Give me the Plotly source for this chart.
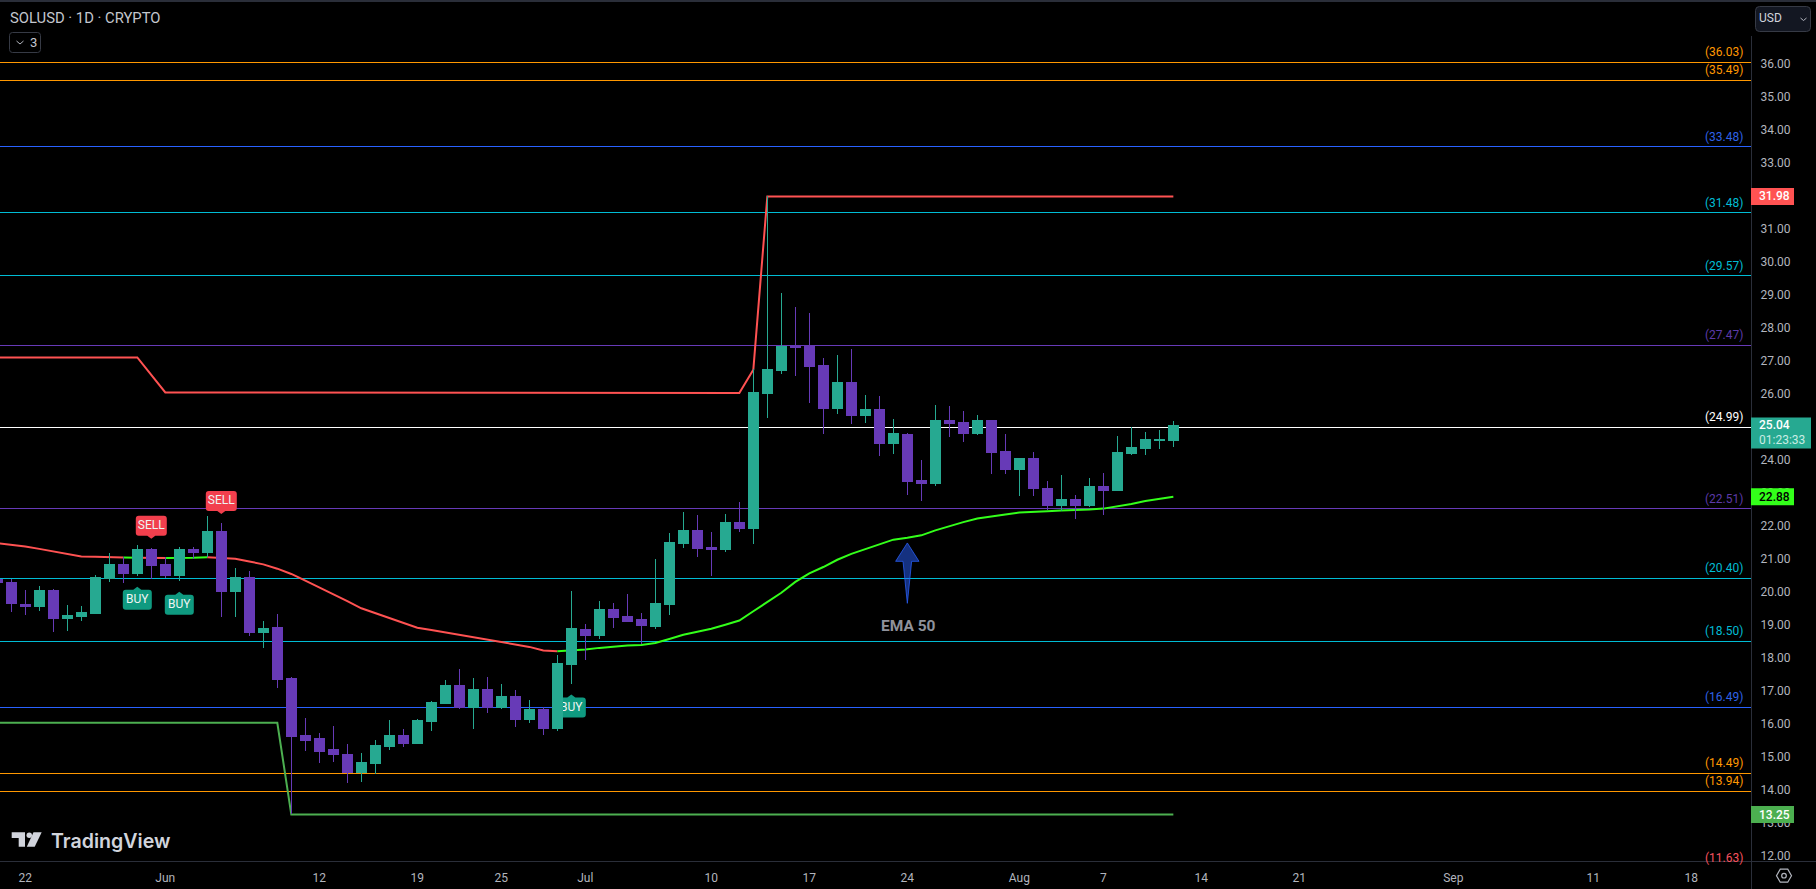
import math
import pandas as pd
import plotly.graph_objects as go

# ---------- data ----------
start_date = "2023-05-20"
candle_open = [20.36,20.28,19.62,19.54,20.04,19.20,19.26,19.35,20.40,20.83,20.55,21.28,20.83,20.49,21.28,21.19,21.83,20.01,20.43,18.77,18.92,17.38,15.65,15.56,15.23,15.08,14.53,14.80,15.32,15.65,15.41,16.08,16.62,17.16,16.50,17.04,16.50,16.83,16.14,16.44,15.86,17.80,18.86,18.68,19.46,19.25,19.16,18.95,19.62,21.46,21.86,21.34,21.28,22.10,21.92,26.00,26.70,27.43,27.43,26.85,25.55,26.34,25.34,25.52,24.49,24.76,23.37,23.28,25.19,25.13,24.79,25.19,24.25,23.70,24.04,23.13,22.61,22.80,22.61,23.19,23.07,24.19,24.34,24.58,24.58]
candle_close = [20.28,19.63,19.54,20.04,19.20,19.28,19.37,20.43,20.83,20.55,21.28,20.80,20.49,21.28,21.20,21.83,20.01,20.43,18.77,18.89,17.35,15.62,15.50,15.17,15.08,14.53,14.83,15.35,15.65,15.41,16.11,16.65,17.16,16.50,17.04,16.50,16.83,16.14,16.44,15.86,17.83,18.89,18.68,19.46,19.22,19.10,18.98,19.65,21.49,21.86,21.31,21.28,22.10,21.92,26.03,26.73,27.43,27.40,26.82,25.55,26.34,25.34,25.52,24.49,24.79,23.34,23.28,25.19,25.10,24.79,25.19,24.22,23.70,24.04,23.13,22.61,22.80,22.61,23.19,23.07,24.22,24.37,24.61,24.61,25.04]
candle_high = [20.40,20.39,20.04,20.19,20.07,19.59,19.56,20.51,21.19,21.05,21.43,21.34,21.04,21.37,21.37,22.31,22.07,20.71,20.62,19.10,19.34,17.41,16.17,15.71,15.92,15.38,15.11,15.50,16.11,15.83,16.14,16.68,17.32,17.65,17.38,17.41,17.20,17.01,16.71,16.50,18.07,20.01,19.01,19.71,19.65,19.92,19.37,20.98,21.77,22.43,22.34,21.80,22.37,22.73,26.75,31.98,29.06,28.64,28.46,27.09,27.19,27.37,25.97,25.94,25.25,24.82,23.98,25.67,25.64,25.49,25.37,25.19,24.79,24.04,24.25,23.37,23.55,22.92,23.46,23.61,24.73,24.98,24.85,24.89,25.19]
candle_low = [20.25,19.40,19.31,19.43,18.78,18.80,19.10,19.34,20.31,20.28,20.49,20.40,20.43,20.34,20.98,21.05,19.25,19.25,18.65,18.31,17.07,13.26,15.17,14.80,14.83,14.20,14.23,14.47,15.20,15.29,15.38,15.77,16.59,16.44,15.83,16.32,16.44,15.89,16.01,15.65,15.77,17.20,17.92,18.56,18.89,19.10,18.41,18.86,19.31,21.34,21.04,20.49,21.22,21.80,21.46,25.28,26.61,26.55,25.73,24.79,25.40,25.07,25.10,24.10,24.19,22.92,22.74,23.22,24.70,24.55,24.76,23.58,23.58,22.89,22.89,22.49,22.46,22.22,22.58,22.34,23.04,24.16,24.13,24.34,24.40]

upper_band_dates = ["2023-05-19","2023-05-30","2023-06-01","2023-07-12","2023-07-13","2023-07-14","2023-08-12"]
upper_band_values = [27.10,27.10,26.04,26.02,26.73,31.98,31.98]
lower_band_dates = ["2023-05-19","2023-06-09","2023-06-10","2023-08-12"]
lower_band_values = [16.03,16.03,13.25,13.25]

ema_start = "2023-05-19"
ema_values = [21.52,21.47,21.43,21.37,21.30,21.22,21.15,21.07,21.06,21.05,21.04,21.03,21.02,21.02,21.02,21.03,21.05,21.02,21.00,20.92,20.83,20.70,20.54,20.34,20.14,19.94,19.72,19.50,19.35,19.20,19.06,18.91,18.84,18.77,18.69,18.62,18.55,18.48,18.41,18.33,18.22,18.20,18.22,18.25,18.30,18.34,18.37,18.39,18.45,18.57,18.70,18.79,18.88,19.00,19.13,19.41,19.69,19.97,20.30,20.56,20.75,20.97,21.15,21.30,21.44,21.58,21.64,21.71,21.86,21.99,22.11,22.22,22.29,22.34,22.40,22.43,22.44,22.46,22.47,22.49,22.52,22.58,22.66,22.75,22.82,22.88]
ema_regimes = [("2023-05-19","2023-05-29","#ff5252"),("2023-05-29","2023-05-30","#33ff1a"),("2023-05-30","2023-06-01","#ff5252"),("2023-06-01","2023-06-04","#33ff1a"),("2023-06-04","2023-06-29","#ff5252"),("2023-06-29","2023-08-12","#33ff1a")]

level_values = [36.03,35.49,33.48,31.48,29.57,27.47,24.99,22.51,20.40,18.50,16.49,14.49,13.94,11.63]
level_colors = ["#ff9800","#ff9800","#2962ff","#00bcd4","#00bcd4","#673ab7","#ffffff","#673ab7","#00bcd4","#00bcd4","#2962ff","#ff9800","#ff9800","#f7525f"]

signal_labels = ["SELL","SELL","BUY","BUY","BUY"]
signal_dates = ["2023-05-31","2023-06-05","2023-05-30","2023-06-02","2023-06-30"]
signal_prices = [22.00,22.75,19.76,19.61,16.49]

x_tickvals = ["2023-05-22","2023-06-01","2023-06-12","2023-06-19","2023-06-25","2023-07-01","2023-07-10","2023-07-17","2023-07-24","2023-08-01","2023-08-07","2023-08-14","2023-08-21","2023-09-01","2023-09-11","2023-09-18"]
x_ticktext = ["22","Jun","12","19","25","Jul","10","17","24","Aug","7","14","21","Sep","11","18"]
y_ticks = list(range(12, 37))

badge_values = [31.98, 22.88, 13.25]
badge_fills = ["#ff5252", "#33ff1a", "#4caf50"]
badge_text = ["#ffffff", "#000000", "#ffffff"]
last_price = 25.04
countdown = "01:23:33"

# ---------- layout constants ----------
W, H = 1816, 889
PL, PR, PT, PB = 0, 1751, 2, 861
YMIN, YMAX = 11.842, 37.872
XRANGE = ["2023-05-20 04:38", "2023-09-22 06:14"]
TEAL, PURPLE = "#26a991", "#673ab7"
GREY = "#b2b5be"
EDGE = "#2a2e39"
FONT = "Roboto"

def px(x):
    return (x - PL) / (PR - PL)
def py(y):
    return (PB - y) / (PB - PT)
def vy(v):
    return (v - YMIN) / (YMAX - YMIN)

candle_dates = pd.date_range(start_date, periods=len(candle_close), freq="D")
ema_dates = pd.date_range(ema_start, periods=len(ema_values), freq="D")
ema = pd.Series(ema_values, index=ema_dates)

fig = go.Figure()

# bands and EMA on main subplot (beneath candles)
fig.add_trace(go.Scatter(x=upper_band_dates, y=upper_band_values, mode="lines",
                         line=dict(color="#ff5252", width=2), hoverinfo="skip"))
fig.add_trace(go.Scatter(x=lower_band_dates, y=lower_band_values, mode="lines",
                         line=dict(color="#4caf50", width=2), hoverinfo="skip"))
for a, b, col in ema_regimes:
    seg = ema.loc[a:b]
    fig.add_trace(go.Scatter(x=seg.index, y=seg.values, mode="lines",
                             line=dict(color=col, width=2), hoverinfo="skip"))

fig.add_trace(go.Scatter(x=signal_dates, y=signal_prices, mode="text", text=signal_labels,
                         textposition="middle center",
                         textfont=dict(family=FONT, size=12, color="#eef4f2"), hoverinfo="skip"))

# candles on an overlay subplot, drawn above everything else
fig.add_trace(go.Candlestick(
    x=candle_dates, open=candle_open, high=candle_high, low=candle_low, close=candle_close,
    increasing=dict(line=dict(color=TEAL, width=1), fillcolor=TEAL),
    decreasing=dict(line=dict(color=PURPLE, width=1), fillcolor=PURPLE),
    xaxis="x2", yaxis="y2", whiskerwidth=0, hoverinfo="skip"))

shapes = []
# horizontal levels
for v, c in zip(level_values, level_colors):
    shapes.append(dict(type="line", xref="paper", x0=0, x1=1, yref="y", y0=v, y1=v,
                       line=dict(color=c, width=1), layer="below"))

# signal tags
def tag_path(w, h, r, tip, up):
    hw, hh = w / 2, h / 2
    p = f"M{-hw+r},{hh} "
    if up:
        p += f"L-4,{hh} L0,{hh+tip} L4,{hh} "
    p += f"L{hw-r},{hh} Q{hw},{hh} {hw},{hh-r} L{hw},{-hh+r} Q{hw},{-hh} {hw-r},{-hh} "
    if not up:
        p += f"L4,{-hh} L0,{-hh-tip} L-4,{-hh} "
    p += f"L{-hw+r},{-hh} Q{-hw},{-hh} {-hw},{-hh+r} L{-hw},{hh-r} Q{-hw},{hh} {-hw+r},{hh} Z"
    return p

for lab, d, p in zip(signal_labels, signal_dates, signal_prices):
    buy = lab == "BUY"
    shapes.append(dict(type="path", xref="x", yref="y", xsizemode="pixel", ysizemode="pixel",
                       xanchor=d, yanchor=p, path=tag_path(29 if buy else 31, 20, 3, 3, buy),
                       fillcolor="#0f9a80" if buy else "#f23f4d", line=dict(width=0), layer="below"))

# EMA arrow
shapes.append(dict(type="path", xref="x", yref="y", xsizemode="pixel", ysizemode="pixel",
                   xanchor="2023-07-24", yanchor=21.48,
                   path="M0,0 L11.7,-18.4 L4.3,-18.4 L0,-60.4 L-4.3,-18.4 L-11.7,-18.4 Z",
                   fillcolor="rgba(41,98,255,0.5)", line=dict(color="rgba(41,98,255,0.75)", width=1), layer="above"))

def prect(x0, y0, x1, y1, fill, line=None, lw=0):
    return dict(type="rect", xref="paper", yref="paper", x0=px(x0), x1=px(x1), y0=py(y0), y1=py(y1),
                fillcolor=fill, line=dict(color=line or fill, width=lw), layer="above")

def rounded(x0, y0, x1, y1, r, fill, line):
    pts = [f"M{px(x0+r)},{py(y0)}", f"L{px(x1-r)},{py(y0)}", f"Q{px(x1)},{py(y0)} {px(x1)},{py(y0+r)}",
           f"L{px(x1)},{py(y1-r)}", f"Q{px(x1)},{py(y1)} {px(x1-r)},{py(y1)}", f"L{px(x0+r)},{py(y1)}",
           f"Q{px(x0)},{py(y1)} {px(x0)},{py(y1-r)}", f"L{px(x0)},{py(y0+r)}", f"Q{px(x0)},{py(y0)} {px(x0+r)},{py(y0)} Z"]
    return dict(type="path", xref="paper", yref="paper", path=" ".join(pts), fillcolor=fill,
                line=dict(color=line, width=1), layer="above")

def poly(points, fill=None, line=None, lw=1, close=True):
    s = "M" + " L".join(f"{px(a)},{py(b)}" for a, b in points) + (" Z" if close else "")
    return dict(type="path", xref="paper", yref="paper", path=s,
                fillcolor=fill or "rgba(0,0,0,0)", line=dict(color=line or "rgba(0,0,0,0)", width=lw if line else 0),
                layer="above")

# frame pieces
shapes.append(prect(0, 0, W, 2, EDGE))
shapes.append(poly([(PR + 0.5, 36), (PR + 0.5, H)], line=EDGE, close=False))
shapes.append(poly([(0, PB + 0.5), (W, PB + 0.5)], line=EDGE, close=False))

# top-left and top-right controls
shapes.append(rounded(9.5, 32.5, 40.5, 52.5, 3, "#000000", "#363a45"))
shapes.append(poly([(16.5, 41), (20, 44), (23.5, 41)], line="#b2b5be", close=False))
shapes.append(rounded(1755.5, 6.5, 1810.5, 31.5, 4, "#131722", "#363a45"))
shapes.append(poly([(1800.5, 18), (1803.5, 20.5), (1806.5, 18)], line="#b2b5be", close=False))

# price badges
def val_y(v):
    return PB - vy(v) * (PB - PT)
for v, f in zip(badge_values, badge_fills):
    c = val_y(v)
    shapes.append(prect(PR, c - 8.5, 1794, c + 8.5, f))
c = val_y(last_price)
shapes.append(prect(PR, c - 8, 1811, c + 23, TEAL))

# gear icon
gx, gy = 1784, 875.7
hexa = [(gx + 7.5 * math.cos(math.radians(a)), gy + 7.5 * math.sin(math.radians(a))) for a in range(0, 360, 60)]
shapes.append(poly(hexa, line=GREY, lw=1.2))
shapes.append(dict(type="circle", xref="paper", yref="paper", x0=px(gx - 2.3), x1=px(gx + 2.3),
                   y0=py(gy + 2.3), y1=py(gy - 2.3), line=dict(color=GREY, width=1.2), layer="above"))

# TradingView logo glyph
LOGO = "#d1d4dc"
shapes.append(poly([(11.7, 832.3), (25, 832.3), (25, 846.7), (18.7, 846.7), (18.7, 838), (11.7, 838)], fill=LOGO))
shapes.append(dict(type="circle", xref="paper", yref="paper", x0=px(26.5), x1=px(32), y0=py(838), y1=py(832.5),
                   fillcolor=LOGO, line=dict(width=0), layer="above"))
shapes.append(poly([(33.5, 832.3), (41.7, 832.3), (34.7, 846.7), (26.8, 846.7)], fill=LOGO))

annotations = []
def text_px(x, y, s, size=12, color=GREY, anchor="left", weight=None, family=FONT):
    dx = {"left": -1.5, "right": 2.5, "center": 0}[anchor]
    annotations.append(dict(xref="paper", yref="paper", x=px(x + dx), y=py(y), text=s, showarrow=False,
                            xanchor=anchor, yanchor="middle",
                            font=dict(family=family, size=size, color=color,
                                      **({"weight": weight} if weight else {}))))

text_px(9.3, 18, "SOLUSD · 1D · CRYPTO", size=14.8, color="#c4c7ce")
text_px(29.5, 42.7, "3", size=13, color="#c4c7ce")
text_px(1759, 18.5, "USD", size=12, color="#d1d4dc")
text_px(50.5, 841, "TradingView", size=19.6, color=LOGO, weight=600, family="Inter")
text_px(908, 625.7, "EMA 50", size=15.5, color="#8f929b", anchor="center", weight=700)

for v, c in zip(level_values, level_colors):
    txt_c = {"#673ab7": "#5c3aa8", "#2962ff": "#2f62e6"}.get(c, c)
    text_px(1742, val_y(v) - 10.3, f"({v:.2f})", size=12, color=txt_c, anchor="right")

for v, t in zip(badge_values, badge_text):
    text_px(1759, val_y(v), f"{v:.2f}", size=12, color=t, weight=500)
text_px(1759, val_y(last_price), f"{last_price:.2f}", size=12, color="#ffffff", weight=500)
text_px(1759, val_y(last_price) + 15, countdown, size=12, color="#c9ece4")

axis_common = dict(showgrid=False, zeroline=False, showline=False)
fig.update_layout(
    width=W, height=H, autosize=False,
    margin=dict(l=PL, r=W - PR, t=PT, b=H - PB, pad=0),
    paper_bgcolor="#000000", plot_bgcolor="#000000",
    showlegend=False, boxgap=0.285, boxgroupgap=0, hovermode=False,
    xaxis=dict(type="date", range=XRANGE, tickmode="array", tickvals=x_tickvals, ticktext=x_ticktext,
               ticks="outside", ticklen=6, tickcolor="rgba(0,0,0,0)",
               tickfont=dict(family=FONT, size=12, color=GREY), rangeslider=dict(visible=False), **axis_common),
    yaxis=dict(side="right", range=[YMIN, YMAX], tickmode="array", tickvals=y_ticks,
               ticktext=[f"{v:.2f}" for v in y_ticks], ticks="outside", ticklen=6, tickcolor="rgba(0,0,0,0)",
               tickfont=dict(family=FONT, size=12, color=GREY), **axis_common),
    xaxis2=dict(type="date", overlaying="x", range=XRANGE, visible=False,
                rangeslider=dict(visible=False), **axis_common),
    yaxis2=dict(overlaying="y", range=[YMIN, YMAX], visible=False, side="right", **axis_common),
    shapes=shapes, annotations=annotations,
)

crisp_js = """
document.body.style.margin='0';document.body.style.background='#000';
document.querySelectorAll('.boxlayer path').forEach(function(p){p.style.shapeRendering='crispEdges';});
document.querySelectorAll('.layer-below .shapelayer path, .shapelayer path').forEach(function(p){
  var d=p.getAttribute('d')||'';
  if(d.indexOf('Z')<0 && d.indexOf('Q')<0 && d.split('L').length===2){p.style.shapeRendering='crispEdges';}
});
"""
fig.write_html("out.html", config=dict(displayModeBar=False), post_script=crisp_js)
